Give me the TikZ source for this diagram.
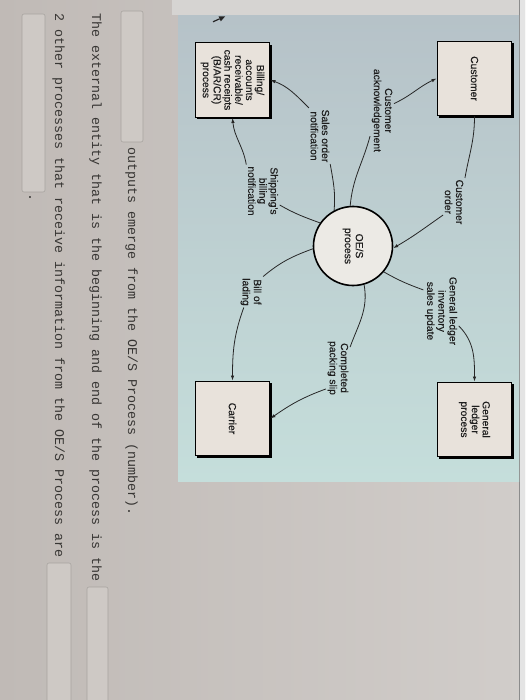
\documentclass[tikz,border=0pt]{standalone}
\usepackage{fontspec}
\setmainfont{Liberation Sans}
\setmonofont{Liberation Mono}
\newfontfamily\dfdfont[FakeBold=0.4]{Liberation Sans}
\usetikzlibrary{arrows.meta,shapes,positioning,calc,shadows}

\definecolor{pageleft}{RGB}{192,186,182}
\definecolor{pageright}{RGB}{209,205,202}
\definecolor{pagetop}{RGB}{214,212,210}
\definecolor{screenedge}{RGB}{228,228,228}
\definecolor{diagtop}{RGB}{182,194,200}
\definecolor{diagbot}{RGB}{197,222,219}
\definecolor{boxfill}{RGB}{232,226,219}
\definecolor{circfill}{RGB}{236,234,229}
\definecolor{inputfill}{RGB}{206,201,197}
\definecolor{inputline}{RGB}{168,164,160}
\definecolor{inktext}{RGB}{30,30,30}
\definecolor{qink}{RGB}{55,53,51}

\begin{document}
\begin{tikzpicture}[x=1pt,y=1pt,
  entity/.style={draw=black,line width=1.4,fill=boxfill,minimum width=74.5,minimum height=74.5,
    align=center,font=\dfdfont\fontsize{10.3}{10.8}\selectfont,text=inktext,
    drop shadow={shadow xshift=2pt,shadow yshift=-2pt,fill=black,opacity=1}},
  procnode/.style={circle,draw=black,line width=1.6,fill=circfill,minimum size=79,
    align=center,font=\dfdfont\fontsize{10.3}{11}\selectfont,text=inktext},
  flowlabel/.style={align=center,inner sep=1.5,font=\dfdfont\fontsize{10.3}{11.2}\selectfont,text=inktext},
  flowline/.style={line width=0.8,draw=black!85},
  flow/.style={flowline,-{Latex[length=5pt,width=3.5pt]}},
  answerbox/.style={draw=inputline,fill=inputfill,rounded corners=2,line width=0.6},
  qtext/.style={anchor=base west,inner sep=0,font=\ttfamily\fontsize{13.33}{16}\selectfont,text=qink}]

  \useasboundingbox (0,0) rectangle (525,-700);

  % photo of the screen, page behind the question
  \fill[left color=pageleft,right color=pageright] (0,0) rectangle (525,-700);
  \fill[pagetop] (172,0) rectangle (525,-15);
  \fill[screenedge] (519,0) rectangle (525,-700);
  \draw[black!45,line width=0.6] (519,0) -- (519,-700);

  % diagram panel
  \fill[top color=diagtop,bottom color=diagbot] (178,-16) rectangle (519,-481);

  % mouse pointer
  \fill[black!85] (225,-16.5) -- (218.5,-16.3) -- (220.8,-21.3) -- cycle;
  \draw[black!85,line width=1.2] (219.6,-18.8) -- (213,-21.8);

\begin{scope}[rotate=-90,transform shape]

  % entities and the process
  \node[entity] (cust) at (78.5,474.5) {Customer};
  \node[entity] (gledger) at (419.5,474.5) {General\\ledger\\process};
  \node[entity] (billing) at (80,232.5) {Billing/\\accounts\\receivable/\\cash receipts\\(B/AR/CR)\\process};
  \node[entity] (carrier) at (418.5,232.5) {Carrier};
  \node[procnode] (oes) at (246,353) {OE/S\\process};

  % flow labels
  \node[flowlabel] (lorder) at (202,454) {Customer\\order};
  \node[flowlabel] (lack) at (110.5,382) {Customer\\acknowledgement};
  \node[flowlabel] (lsales) at (136,320) {Sales order\\notification};
  \node[flowlabel] (lship) at (191,263) {Shipping's\\billing\\notification};
  \node[flowlabel] (lgl) at (311,441) {General ledger\\inventory\\sales update};
  \node[flowlabel] (lpack) at (368,338) {Completed\\packing slip};
  \node[flowlabel] (lbol) at (292,251) {Bill of\\lading};

  % customer order
  \draw[flowline] (cust.east) to[out=0,in=170] (lorder.north west);
  \draw[flow] (lorder.-40) to[out=-55,in=120] (oes.87);
  % customer acknowledgement
  \draw[flowline] (oes.184) to[out=175,in=-15] (lack.-25);
  \draw[flow] (lack.120) to[out=115,in=-65] (cust.south);
  % sales order notification
  \draw[flowline] (oes.208) to[out=175,in=10] (lsales.20);
  \draw[flow] (lsales.south west) to[out=-135,in=70] (billing.north);
  % shipping's billing notification
  \draw[flowline] (oes.235) to[out=250,in=60] (lship.50);
  \draw[flow] (lship.south west) to[out=190,in=5] (billing.east);
  % general ledger inventory sales update
  \draw[flowline] (oes.50) to[out=60,in=-110] (lgl.220);
  \draw[flow] (lgl.50) to[out=45,in=180] (gledger.west);
  % completed packing slip
  \draw[flowline] (oes.16) to[out=10,in=160] (lpack.150);
  \draw[flow] (lpack.-30) to[out=-70,in=125] (carrier.north);
  % bill of lading
  \draw[flowline] (oes.274) to[out=-70,in=130] (lbol.north west);
  \draw[flow] (lbol.-25) to[out=-20,in=180] (carrier.west);

  % question text below the picture
  \draw[answerbox] (11,121) rectangle (142,143);
  \node[qtext] (q1) at (147,128) {outputs emerge from the OE/S Process (number).};
  \node[qtext] (q2) at (13,92) {The external entity that is the beginning and end of the process is the};
  \draw[answerbox] (587,87) rectangle (706,108);
  \node[qtext] (q3) at (13,55) {2 other processes that receive information from the OE/S Process are};
  \draw[answerbox] (563,47) rectangle (706,71);
  \draw[answerbox] (14,22) rectangle (192,45);
  \node[qtext] (qdot) at (193,29) {.};

\end{scope}
\end{tikzpicture}
\end{document}
